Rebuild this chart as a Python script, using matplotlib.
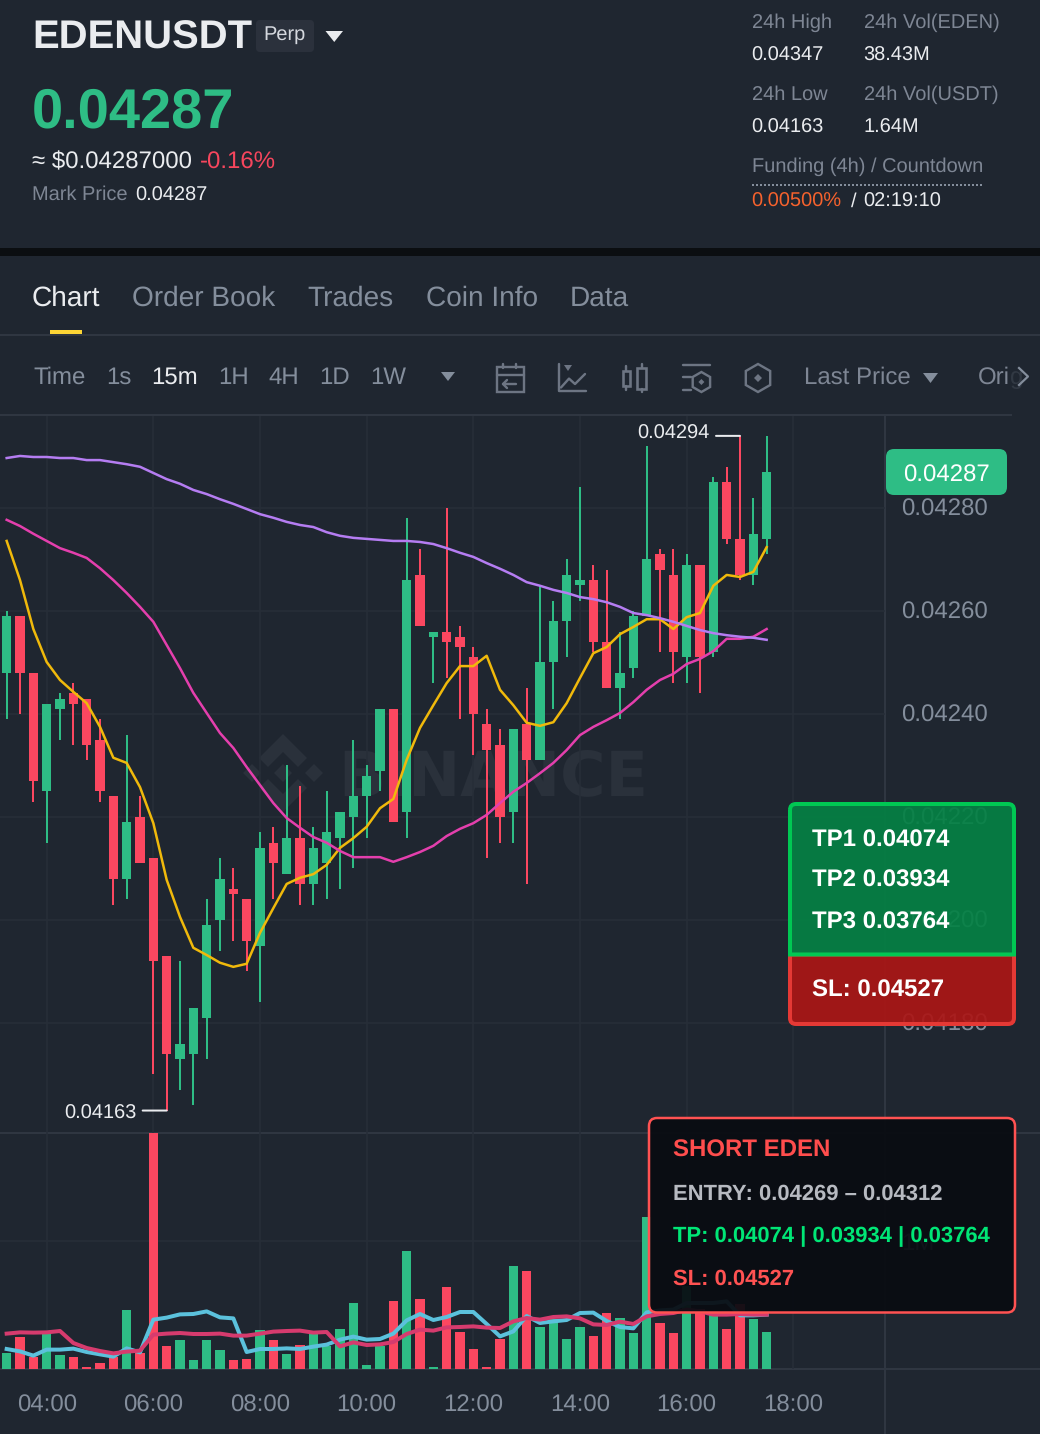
import matplotlib
matplotlib.use("Agg")
import matplotlib.pyplot as plt
from matplotlib.patches import FancyBboxPatch, Polygon, Rectangle, PathPatch
from matplotlib.path import Path
from matplotlib.transforms import ScaledTranslation

plt.rcParams['font.family'] = ['Liberation Sans', 'DejaVu Sans']
plt.rcParams['text.hinting'] = 'no_hinting'
plt.rcParams['text.hinting_factor'] = 1

# ---- data: prices in units of 0.00001 ----
opens  = [4248,4259,4248,4225,4241,4244,4243,4235,4224,4208,4220,4212,4193,4173,4174,4181,4200,4206,4204,4195,4215,4209,4216,4207,4211,4216,4220,4224,4229,4241,
          4221,4267,4255,4256,4255,4251,4238,4234,4221,4238,4231,4250,4258,4265,4266,4254,4245,4249,4259,4271,4267,4251,4269,4252,4285,4274,4267,4274]
highs  = [4260,4259,4248,4242,4244,4246,4243,4239,4224,4236,4224,4212,4193,4192,4183,4204,4212,4210,4204,4217,4218,4230,4226,4218,4225,4221,4235,4230,4241,4241,
          4278,4272,4256,4280,4257,4253,4241,4237,4237,4245,4265,4262,4270,4284,4269,4268,4256,4260,4292,4272,4272,4271,4269,4286,4288,4294,4282,4294]
lows   = [4239,4240,4223,4215,4235,4234,4231,4223,4203,4204,4211,4170,4163,4167,4164,4173,4194,4196,4190,4184,4204,4209,4203,4203,4204,4206,4210,4216,4225,4219,
          4216,4257,4246,4247,4239,4232,4212,4215,4215,4207,4231,4241,4251,4262,4252,4245,4239,4247,4259,4252,4246,4246,4244,4251,4273,4266,4265,4271]
closes = [4259,4248,4227,4242,4243,4242,4234,4225,4208,4219,4211,4192,4174,4176,4183,4199,4208,4205,4196,4214,4211,4216,4207,4214,4217,4221,4224,4228,4241,4219,
          4266,4257,4256,4254,4253,4240,4233,4220,4237,4231,4250,4258,4267,4266,4254,4245,4248,4259,4270,4268,4252,4269,4251,4285,4274,4267,4275,4287]

ma_fast = [4273.6,4266.0,4256.5,4250.1,4246.6,4244.3,4242.1,4237.5,4231.5,4230.5,4225.8,4218.8,4207.8,4200.6,4194.6,4193.2,4191.7,4190.9,4191.5,4197.5,
           4202.3,4207.0,4208.2,4208.9,4210.7,4214.0,4215.9,4218.1,4221.7,4223.5,4231.1,4237.3,4241.7,4246.0,4249.3,4249.3,4251.3,4244.7,4241.7,4238.3,
           4237.7,4238.4,4242.1,4247.0,4251.8,4253.0,4255.5,4256.9,4258.4,4258.4,4256.5,4258.8,4259.6,4264.9,4267.0,4266.6,4267.6,4272.4]
ma_mid  = [4277.7,4276.5,4275.0,4273.6,4272.2,4271.3,4270.3,4268.3,4266.0,4263.5,4260.8,4257.9,4253.4,4248.9,4244.1,4240.2,4236.3,4233.4,4229.7,4226.2,
           4222.7,4219.8,4217.9,4216.1,4215.0,4213.4,4212.2,4212.2,4212.2,4211.3,4212.2,4213.2,4214.4,4216.3,4217.7,4218.8,4220.4,4222.7,4224.9,4226.6,
           4228.5,4230.5,4233.0,4235.9,4237.5,4238.8,4240.2,4242.3,4244.7,4246.6,4247.8,4249.7,4250.7,4252.2,4254.6,4254.6,4255.0,4256.5]
ma_slow = [4289.7,4290.1,4289.9,4289.9,4289.7,4289.7,4289.3,4289.3,4288.9,4288.5,4288.0,4286.8,4285.6,4284.7,4283.5,4282.7,4281.7,4280.8,4279.8,4278.8,
           4278.1,4277.3,4276.7,4276.3,4275.3,4274.6,4274.2,4274.0,4273.8,4273.6,4273.6,4273.4,4273.0,4272.2,4271.3,4270.5,4269.3,4268.2,4267.0,4265.6,
           4264.9,4264.1,4263.5,4262.7,4262.3,4261.7,4260.8,4259.6,4259.2,4258.6,4257.9,4257.1,4256.3,4255.7,4255.3,4255.0,4254.8,4254.4]

# volume, axis unit where 1024 = the "1M" grid line
volumes = [128,256,96,288,112,96,16,48,96,472,128,1896,184,232,72,232,152,72,80,312,232,120,192,304,184,320,528,32,184,544,
           944,560,16,656,296,160,16,240,824,784,336,400,240,336,264,448,408,288,1216,368,288,664,480,432,320,520,400,296]
vol_ma_short = [160,141,107,155,155,163,136,117,99,165,133,395,411,437,440,461,413,405,136,160,160,165,160,179,195,235,259,235,240,283,
                389,440,392,416,456,456,360,261,301,424,368,381,392,448,451,384,336,325,453,469,475,528,528,528,541,429,429,435]
vol_ma_long  = [283,293,291,293,304,208,168,144,125,139,147,275,283,288,280,280,283,267,267,283,299,304,307,291,296,181,213,192,197,216,
                280,315,307,333,336,341,331,328,381,408,395,416,421,405,357,352,379,360,421,440,448,475,461,435,435,440,435,435]

price_ticks = [4180,4200,4220,4240,4260,4280]
time_ticks  = [3,11,19,27,35,43,51,59]
time_labels = ['04:00','06:00','08:00','10:00','12:00','14:00','16:00','18:00']
tabs = [('Chart',32),('Order Book',132.5),('Trades',307.5),('Coin Info',426),('Data',570)]
intervals = [('Time',33.5),('1s',106),('15m',151.5),('1H',218),('4H',268),('1D',319),('1W',370)]

# ---- colours ----
BG='#1f2630'; LINE='#2f3641'; GRID='#272e38'; GREY='#848e9c'; WHITE='#eaecef'
UP='#2ebd85'; DOWN='#fb4760'; MUTED='#7e8694'

W,H=1040,1434
fig=plt.figure(figsize=(W/100,H/100),dpi=100,facecolor=BG)
def pt(px): return px*0.72

# ---- background chrome, pixel coordinates ----
bg=fig.add_axes([0,0,1,1],zorder=0); bg.set_xlim(0,W); bg.set_ylim(H,0); bg.axis('off')
def T(a,x,y,s,size,color=WHITE,weight='normal',**k):
    return a.text(x,y,s,fontsize=pt(size),color=color,fontweight=weight,va='baseline',ha=k.pop('ha','left'),**k)
def hline(a,x0,x1,y,c=LINE,w=2,**k): a.plot([x0,x1],[y,y],color=c,lw=pt(w),solid_capstyle='butt',**k)
def vline(a,x,y0,y1,c=LINE,w=2,**k): a.plot([x,x],[y0,y1],color=c,lw=pt(w),solid_capstyle='butt',**k)
def tri(a,x0,x1,y0,y1,c):
    a.add_patch(Polygon([(x0,y0),(x1,y0),((x0+x1)/2,y1)],closed=True,fc=c,ec='none'))
def rbox(a,x0,y0,x1,y1,r,**k):
    a.add_patch(FancyBboxPatch((x0+r,y0+r),x1-x0-2*r,y1-y0-2*r,boxstyle=f'round,pad={r},rounding_size={r}',**k))

bg.add_patch(Rectangle((0,248),W,8,fc='#0b0e11',ec='none'))
T(bg,32,49,'EDENUSDT',40,'#eaecef','bold')
rbox(bg,256,20,314,52,4,fc='#2b313c',ec='none')
T(bg,263.5,40,'Perp',20,'#d5d8de')
tri(bg,325.5,343,31,42,WHITE)
T(bg,32,127,'0.04287',56.5,UP,'bold')
T(bg,32,168.5,'≈ $0.04287000',24,WHITE)
T(bg,200,168.5,'-0.16%',24,'#f6465d')
T(bg,32,200,'Mark Price',20,MUTED)
T(bg,135,200.5,'0.04287',20,WHITE)
for x,y,s,c in [(752,28,'24h High',MUTED),(864,28,'24h Vol(EDEN)',MUTED),(751.5,61,'0.04347',WHITE),(863.5,61,'38.43M',WHITE),
                (752,100,'24h Low',MUTED),(864,100,'24h Vol(USDT)',MUTED),(751.5,133,'0.04163',WHITE),(863.5,133,'1.64M',WHITE),
                (752,172,'Funding (4h) / Countdown',MUTED),(751.5,207,'0.00500%','#f6622d'),(851,207,'/',WHITE),(863.5,207,'02:19:10',WHITE)]:
    T(bg,x,y,s,20,c)
bg.plot([752,984],[184.5,184.5],color=GREY,lw=pt(2),ls=(0,(1,1)))

for s,x in tabs: T(bg,x,306,s,28,WHITE if s=='Chart' else GREY)
hline(bg,0,W,335)
bg.add_patch(Rectangle((50,330),32,6,fc='#fcd535',ec='none'))
for s,x in intervals: T(bg,x,384,s,24,WHITE if s=='15m' else GREY)
tri(bg,441,455,372,381,GREY)
hline(bg,0,1012,415)

# toolbar icons
IC='#6d7583'
ic=dict(color=IC,lw=pt(2.4),solid_capstyle='round',solid_joinstyle='round')
bg.add_patch(Rectangle((497,367),27,25,fc='none',ec=IC,lw=pt(2.4)))
bg.plot([497,524],[375,375],**ic); bg.plot([503,503],[363.5,368],**ic); bg.plot([516,516],[363.5,368],**ic)
bg.plot([503,516],[384,384],**ic); bg.plot([507,503,507],[380,384,388],**ic)
bg.plot([558.5,558.5,586],[364,391,391],**ic); bg.plot([561,569,575,585],[387.5,378.6,384,374],**ic)
tri(bg,564,572,365,371,IC)
bg.add_patch(Rectangle((622.5,370.5),7.5,15.5,fc='none',ec=IC,lw=pt(2.6))); bg.plot([626.2,626.2],[366,371],**ic); bg.plot([626.2,626.2],[386,390],**ic)
bg.add_patch(Rectangle((637,368),9,21,fc='none',ec=IC,lw=pt(2.6))); bg.plot([641.5,641.5],[363.5,368],**ic); bg.plot([641.5,641.5],[389,392],**ic)
bg.plot([682.5,710],[365,365],**ic); bg.plot([682.5,691],[377,377],**ic); bg.plot([682.5,691],[390,390],**ic)
def hexagon(cx,cy,r,dr):
    bg.add_patch(Polygon([(cx,cy-r),(cx+.87*r,cy-r/2),(cx+.87*r,cy+r/2),(cx,cy+r),(cx-.87*r,cy+r/2),(cx-.87*r,cy-r/2)],closed=True,fc='none',ec=IC,lw=pt(2.4)))
    bg.add_patch(Polygon([(cx,cy-dr),(cx+dr,cy),(cx,cy+dr),(cx-dr,cy)],closed=True,fc=IC,ec='none'))
hexagon(701.4,382,10,3); hexagon(758,378,14,4)
T(bg,804.5,384,'Last Price',24,MUTED)
tri(bg,923,938,373,383,GREY)
T(bg,977.5,384,'Ori',24,MUTED); T(bg,1009.5,384,'g',24,MUTED,alpha=.2)
bg.plot([1019,1028,1019],[368,376.5,385],color=GREY,lw=pt(2.2))

# watermark
WM='#2a313b'
for pts in ([(283,734),(307,758),(298,767),(283,752),(268,767),(259,758)],
            [(283,812),(307,788),(298,779),(283,794),(268,779),(259,788)],
            [(283,764),(292,773),(283,782),(274,773)],
            [(252,764),(261,773),(252,782),(243,773)],
            [(314,764),(323,773),(314,782),(305,773)]):
    bg.add_patch(Polygon(pts,closed=True,fc=WM,ec='none'))
bg.text(338,795,'BINANCE',fontsize=pt(62),color=WM,fontweight='bold',family='DejaVu Sans',va='baseline')

# frame lines
hline(bg,0,W,1133); hline(bg,0,W,1369); vline(bg,885,416,H)

# ---- price panel ----
XL=(-0.5,65.875)
ax=fig.add_axes([0,(H-1133)/H,885/W,(1133-416)/H],zorder=1,facecolor='none')
ax.set_xlim(*XL); ax.set_ylim(4158.64,4297.86)
for s in ax.spines.values(): s.set_visible(False)
xs=list(range(len(opens)))
cols=[UP if c>=o else DOWN for o,c in zip(opens,closes)]
ax.vlines(xs,lows,highs,colors=cols,lw=pt(2),zorder=2)
ax.bar(xs,[abs(c-o) for o,c in zip(opens,closes)],bottom=[min(o,c) for o,c in zip(opens,closes)],width=0.7,color=cols,zorder=3)
ax.plot(xs,ma_fast,color='#f0b90b',lw=pt(2.5),zorder=4)
ax.plot(xs,ma_mid,color='#e43fad',lw=pt(2.5),zorder=4)
ax.plot(xs,ma_slow,color='#b57df2',lw=pt(2.5),zorder=4)
ax.yaxis.tick_right()
ax.set_yticks(price_ticks,[f'{v/1e5:.5f}' for v in price_ticks])
ax.tick_params(axis='y',length=0,pad=pt(16),labelsize=pt(24),labelcolor=GREY)
for lab in ax.get_yticklabels():
    lab.set_transform(lab.get_transform()+ScaledTranslation(0,1/100,fig.dpi_scale_trans))
ax.set_xticks(time_ticks); ax.tick_params(axis='x',length=0,labelbottom=False)
ax.grid(True,color=GRID,lw=pt(1.5)); ax.set_axisbelow(True)
hi=highs.index(max(highs)); lo=lows.index(min(lows))
for i,v,dy,ly in [(hi,highs[hi],pt(2),0),(lo,lows[lo],pt(-3),pt(-1.5))]:
    ax.annotate('',xy=(i,v),xycoords='data',xytext=(-pt(24),0),textcoords='offset points',annotation_clip=False,
                arrowprops=dict(arrowstyle='-',color=WHITE,lw=pt(2),shrinkA=0,shrinkB=0,
                                relpos=(0.5,0.5)),zorder=6)
    ax.annotate(f'{v/1e5:.5f}',xy=(i,v),xytext=(-pt(30),dy),textcoords='offset points',ha='right',va='center',
                fontsize=pt(20),color=WHITE,annotation_clip=False,zorder=6)

# ---- volume panel ----
av=fig.add_axes([0,(H-1369)/H,885/W,236/H],zorder=1,facecolor='none')
av.set_xlim(*XL); av.set_ylim(0,1888)
for s in av.spines.values(): s.set_visible(False)
av.bar(xs,volumes,width=0.7,color=cols,zorder=2)
av.plot(xs,vol_ma_short,color='#5bc1dc',lw=pt(4),zorder=3)
av.plot(xs,vol_ma_long,color='#d63b6e',lw=pt(4),zorder=4)
av.yaxis.tick_right(); av.set_yticks([1024],['1M'])
av.tick_params(axis='y',length=0,pad=pt(16),labelsize=pt(24),labelcolor=GREY)
av.set_xticks(time_ticks,time_labels)
av.tick_params(axis='x',length=0,pad=pt(25),labelsize=pt(24),labelcolor=GREY)
av.grid(True,color=GRID,lw=pt(1.5)); av.set_axisbelow(True)

# ---- overlay panels ----
ov=fig.add_axes([0,0,1,1],zorder=5,facecolor='none'); ov.set_xlim(0,W); ov.set_ylim(H,0); ov.axis('off')
rbox(ov,886,449,1007,495,8,fc=UP,ec='none')
T(ov,903,482,'0.04287',24,'#ffffff')

def card(x0,y0,x1,y1,rt,rb,fc,ec,a):
    v=[(x0,y0+rt),(x0,y0),(x0+rt,y0),(x1-rt,y0),(x1,y0),(x1,y0+rt),(x1,y1-rb),(x1,y1),(x1-rb,y1),(x0+rb,y1),(x0,y1),(x0,y1-rb),(x0,y0+rt)]
    c=[Path.MOVETO,Path.CURVE3,Path.CURVE3,Path.LINETO,Path.CURVE3,Path.CURVE3,Path.LINETO,Path.CURVE3,Path.CURVE3,Path.LINETO,Path.CURVE3,Path.CURVE3,Path.LINETO]
    ov.add_patch(PathPatch(Path(v,c),fc=matplotlib.colors.to_rgba(fc,a),ec=ec,lw=pt(4)))
card(790,954.5,1014,1024,0,6,'#ab1615','#e53935',.92)
card(790,804,1014,954.5,6,0,'#048144','#00c853',.92)
for y,s in [(847,'TP1 0.04074'),(887,'TP2 0.03934'),(929,'TP3 0.03764'),(997,'SL: 0.04527')]:
    T(ov,812,y,s,24,'#ffffff','bold')

rbox(ov,649,1118,1015,1312.5,8,fc=matplotlib.colors.to_rgba('#090c12',.94),ec='#ff5252',lw=pt(2.5))
T(ov,673,1157,'SHORT EDEN',24,'#ff4d4d','bold')
T(ov,673,1200,'ENTRY: 0.04269 – 0.04312',22,'#b7bac1','bold')
T(ov,673,1242,'TP: 0.04074 | 0.03934 | 0.03764',22,'#00e676','bold')
T(ov,673,1285,'SL: 0.04527',22,'#ff5252','bold')

fig.savefig('out.png',dpi=100,facecolor=BG)
